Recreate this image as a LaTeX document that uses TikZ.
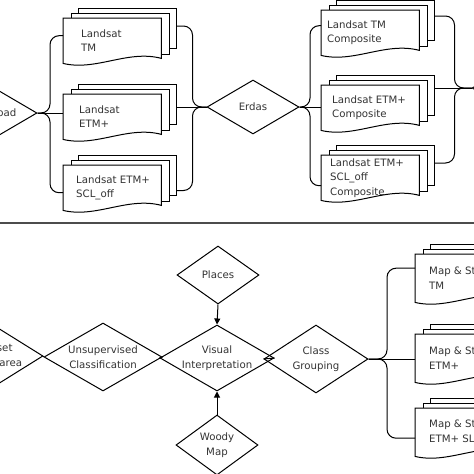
\documentclass[tikz,border=0pt]{standalone}
\usepackage{fontspec}
\setmainfont{DejaVu Sans}
\usetikzlibrary{shapes.geometric, arrows.meta, positioning}

\newcommand{\docfont}{\fontsize{10.2}{14.5}\selectfont}

\tikzset{
    decision/.style={diamond, draw, line width=1pt, inner sep=0pt},
    dtext/.style={align=center, font=\docfont, text=black!80},
    backpage/.style={rectangle, draw, line width=1pt, fill=white, minimum width=98pt, inner sep=0pt},
    frontpage/.style={rectangle, fill=white, minimum width=98pt, inner sep=0pt},
    pageline/.style={line width=1pt},
    brace/.style={line width=1pt, rounded corners=9pt},
    link/.style={line width=1pt},
    flow/.style={line width=1pt, -{Triangle[length=6pt, width=6pt]}},
    divider/.style={line width=1.2pt, black!70}
}

% stack of three pages: name, x, y (top left of front page), height, text inset, text
\newcommand{\docstack}[6]{
    \node[backpage, anchor=north west, minimum height={(#4-5)*1pt}] (#1-3) at (#2+15,#3-10) {};
    \node[backpage, anchor=north west, minimum height={(#4-4)*1pt}] (#1-2) at (#2+7.5,#3-5) {};
    \node[frontpage, anchor=north west, minimum height={#4*1pt},
        label={[dtext, align=left, anchor=west, inner xsep=0pt, xshift=#5pt]west:#6}] (#1) at (#2,#3) {};
    \draw[pageline] (#1.south west) .. controls ([xshift=33pt,yshift=-8pt]#1.south west) and ([xshift=65pt,yshift=14pt]#1.south west) .. ([yshift=5pt]#1.south east) -- (#1.north east) -- (#1.north west) -- cycle;
}

\begin{document}
\begin{tikzpicture}[x=1pt, y=-1pt]
    \useasboundingbox (0,0) rectangle (474,474);
    \clip (0,0) rectangle (474,474);

    % Top part: images to composites
    \node[decision, minimum width=92pt, minimum height=54pt, label={[dtext]center:Download}] (load) at (-9,113) {};
    \docstack{tm}{63}{18}{45}{18}{Landsat\\TM}
    \docstack{etm}{63}{94}{45}{16}{Landsat\\ETM+}
    \docstack{scl}{63}{165}{45}{13}{Landsat ETM+\\SCL\_off}

    \node[decision, minimum width=92pt, minimum height=54pt, label={[dtext]center:Erdas}] (erdas) at (253,107) {};
    \docstack{tmc}{321}{10}{45}{6}{Landsat TM\\Composite}
    \docstack{etmc}{321}{85}{45}{11}{Landsat ETM+\\Composite}
    \docstack{sclc}{321}{155}{45}{9}{Landsat ETM+\\SCL\_off\\Composite}

    \node[decision, minimum width=92pt, minimum height=54pt] (next) at (518,88) {};

    % Connections
    \draw[brace] (load.east) -| ([xshift=-13pt,yshift=5pt]tm.west) -- ([yshift=5pt]tm.west);
    \draw[link] (load.east) -- (load.east -| etm.west);
    \draw[brace] (load.east) -| ([xshift=-13pt,yshift=-5pt]scl.west) -- ([yshift=-5pt]scl.west);

    \draw[brace] ([yshift=2.5pt]tm-3.east) -| ([xshift=-14pt]erdas.west) -- (erdas.west);
    \draw[link] (etm-3.east |- erdas.west) -- (erdas.west);
    \draw[brace] ([yshift=-15pt]scl-3.east) -| ([xshift=-14pt]erdas.west) -- (erdas.west);

    \draw[brace] (erdas.east) -| ([xshift=-11pt,yshift=7pt]tmc.west) -- ([yshift=7pt]tmc.west);
    \draw[link] (erdas.east) -- (erdas.east -| etmc.west);
    \draw[brace] (erdas.east) -| ([xshift=-11pt,yshift=-8pt]sclc.west) -- ([yshift=-8pt]sclc.west);

    \draw[brace] ([yshift=4.5pt]tmc-3.east) -| ([xshift=-17pt]next.west) -- (next.west);
    \draw[link] (etmc-3.east |- next.west) -- (next.west);
    \draw[brace] ([yshift=2.5pt]sclc-3.east) -| ([xshift=-17pt]next.west) -- (next.west);

    \draw[divider] (0,223) -- (474,223);

    % Bottom part: classification
    \node[decision, minimum width=96pt, minimum height=60pt, label={[dtext]center:Subset\\study area}] (subset) at (-5,356) {};
    \node[decision, minimum width=118pt, minimum height=68pt, label={[dtext]center:Unsupervised\\Classification}] (unsup) at (103,357) {};
    \node[decision, minimum width=114pt, minimum height=66pt, label={[dtext]center:Visual\\Interpretation}] (visual) at (217,358) {};
    \node[decision, minimum width=82pt, minimum height=58pt, label={[dtext]center:Places}] (places) at (218,275) {};
    \node[decision, minimum width=82pt, minimum height=60pt, label={[dtext]center:Woody\\Map}] (woody) at (217,445) {};
    \node[decision, minimum width=104pt, minimum height=68pt, label={[dtext]center:Class\\Grouping}] (class) at (316,359) {};

    \docstack{maptm}{415}{254}{48}{14}{Map \& Statistics\\TM}
    \docstack{mapetm}{415}{334}{48}{14}{Map \& Statistics\\ETM+}
    \docstack{mapscl}{415}{408}{48}{14}{Map \& Statistics\\ETM+ SLC\_off}

    \draw[link] (subset.east) -- (unsup.west);
    \draw[link] (unsup.east) -- (visual.west);
    \draw[link] (visual.east) -- (class.west);
    \draw[flow] (places.south) -- (visual.north);
    \draw[flow] (woody.north) -- (visual.south);

    \draw[brace] (class.east) -| ([xshift=-28pt,yshift=10pt]maptm.west) -- ([yshift=10pt]maptm.west);
    \draw[link] (class.east) -- (class.east -| mapetm.west);
    \draw[brace] (class.east) -| ([xshift=-28pt,yshift=-6pt]mapscl.west) -- ([yshift=-6pt]mapscl.west);
\end{tikzpicture}
\end{document}
